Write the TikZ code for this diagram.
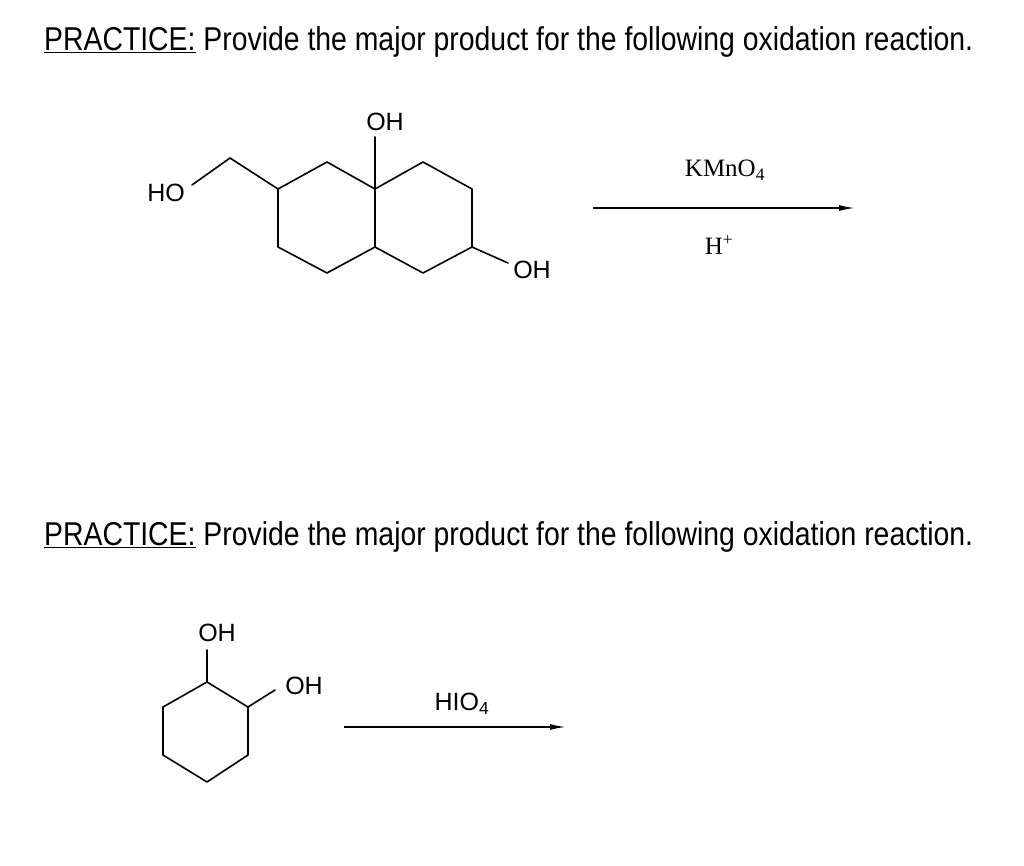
\documentclass[tikz,border=0pt]{standalone}
\usepackage{fontspec}
\usetikzlibrary{arrows.meta}
\setmainfont{Liberation Sans}
\newfontfamily\serifchem{Liberation Serif}
\begin{document}
\begin{tikzpicture}[x=1pt,y=-1pt,
  bond/.style={line width=1.6pt,line cap=round,line join=round},
  lab/.style={font=\fontsize{25}{28}\selectfont,inner sep=0pt},
  title/.style={font=\fontsize{33}{36}\selectfont,inner sep=0pt,anchor=west,xscale=0.86},
  rea/.style={font=\serifchem\fontsize{25}{28}\selectfont,inner sep=0pt},
  arr/.style={line width=1.6pt,-{Latex[length=16pt,width=6pt]}}]
\useasboundingbox[fill=white] (0,0) rectangle (1024,866);
\node[title] (t1) at (44,42) {\underline{PRACTICE:} Provide the major product for the following oxidation reaction.};
\node[title] (t2) at (44,537) {\underline{PRACTICE:} Provide the major product for the following oxidation reaction.};
% top molecule
\coordinate (A) at (278,189); \coordinate (B) at (327,162); \coordinate (C) at (375,189);
\coordinate (D) at (375,247); \coordinate (E) at (327,273); \coordinate (F) at (278,247);
\coordinate (G) at (423,162); \coordinate (H) at (472,189); \coordinate (I) at (472,247);
\coordinate (J) at (423,273); \coordinate (M) at (230,158);
\coordinate (ho1) at (192,185); \coordinate (oh1) at (375,137); \coordinate (oh2) at (508,263);
\draw[bond] (A)--(B)--(C)--(D)--(E)--(F)--cycle;
\draw[bond] (C)--(G)--(H)--(I)--(J)--(D);
\draw[bond] (ho1)--(M)--(A);
\draw[bond] (C)--(oh1);
\draw[bond] (I)--(oh2);
\node[lab] (nho) at (166,193) {HO};
\node[lab] (noh1) at (385,122) {OH};
\node[lab] (noh2) at (532,270) {OH};
\coordinate (a1s) at (593,208); \coordinate (a1e) at (855,208);
\draw[arr] (a1s)--(a1e);
\node[rea] (kmno) at (725,170) {KMnO\textsubscript{4}};
\node[rea] (hp) at (719,245) {H\textsuperscript{+}};
% bottom molecule
\coordinate (P1) at (207,682); \coordinate (P2) at (248,707); \coordinate (P3) at (248,755);
\coordinate (P4) at (207,782); \coordinate (P5) at (163,755); \coordinate (P6) at (163,707);
\coordinate (o3) at (207,650); \coordinate (o4) at (275,690);
\draw[bond] (P1)--(P2)--(P3)--(P4)--(P5)--(P6)--cycle;
\draw[bond] (P1)--(o3);
\draw[bond] (P2)--(o4);
\node[lab] (noh3) at (217,633) {OH};
\node[lab] (noh4) at (304,686) {OH};
\coordinate (a2s) at (344,727); \coordinate (a2e) at (566,727);
\draw[arr] (a2s)--(a2e);
\node[lab] (hio) at (462,704) {HIO\textsubscript{4}};
\end{tikzpicture}
\end{document}
